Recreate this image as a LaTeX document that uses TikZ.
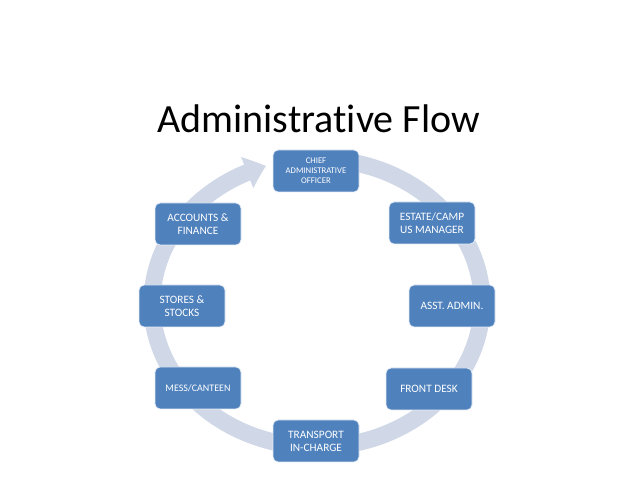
\documentclass[tikz,border=0pt]{standalone}
\usepackage{fontspec}
\setmainfont[Ligatures=NoCommon,Contextuals=NoAlternate]{Carlito}
\usepackage{tikz}
\usetikzlibrary{arrows.meta,bending,positioning,calc}
\definecolor{boxblue}{RGB}{79,129,189}
\definecolor{ringgray}{RGB}{208,216,232}
\tikzset{
  unit/.style={rounded corners=5pt, draw=white!85!boxblue, fill=boxblue, line width=0.8pt,
               text=white, align=center, inner sep=2pt, minimum width=86pt,
               minimum height=42pt, font=\fontsize{11.3}{13}\selectfont},
  ring/.style={line width=17pt, draw=ringgray,
               -{Triangle[width=32pt,length=20pt,bend]}},
}
\begin{document}
\begin{tikzpicture}[x=1pt,y=1pt]
    \useasboundingbox (0,0) rectangle (638,479);
    \node[anchor=base west, font=\fontsize{40}{44}\selectfont] (title) at (154,346) {Administrat\kern0pt ive Flow};
    % cycle ring (drawn first, boxes sit on top of it)
    \coordinate (ctr) at (317,176);
    \draw[ring] ($(ctr)+(85:165 and 144)$) arc[start angle=85, end angle=-252, x radius=165, y radius=144];
    \node[unit, font=\fontsize{8.7}{10}\selectfont] (cao) at (316,308) {CHIEF\\ADMINISTRATIVE\\OFFICER};
    \node[unit] (estate) at (432,256) {ESTATE/CAMP\\US MANAGER};
    \node[unit] (asst) at (452,173) {ASST. ADMIN.};
    \node[unit] (front) at (429,90) {FRONT DESK};
    \node[unit] (transport) at (316,38) {TRANSPORT\\IN-CHARGE};
    \node[unit, font=\fontsize{10}{12}\selectfont] (mess) at (198,91) {MESS/CANTEEN};
    \node[unit] (stores) at (182,173) {STORES \&\\STOCKS};
    \node[unit] (accounts) at (198,255) {ACCOUNTS \&\\FINANCE};
  \end{tikzpicture}
\end{document}
